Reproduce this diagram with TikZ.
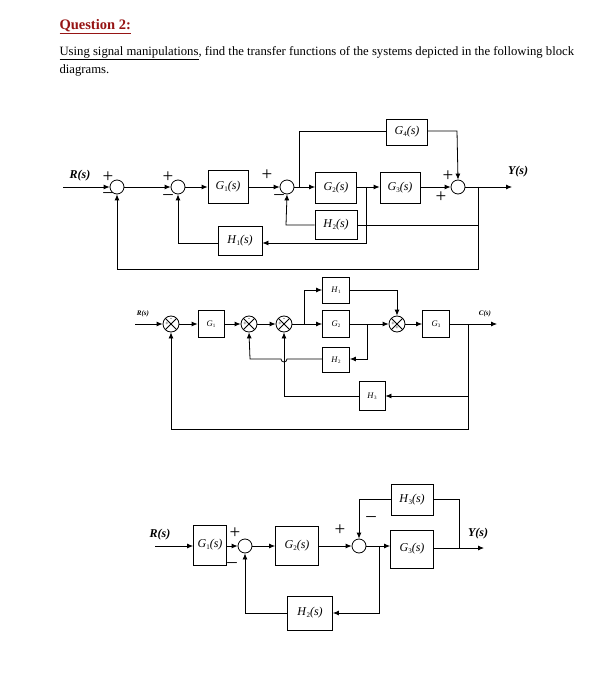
\documentclass[tikz,border=0pt]{standalone}
\usepackage{fontspec}
\setmainfont{Liberation Serif}
\usetikzlibrary{arrows.meta}
\definecolor{qred}{RGB}{150,20,20}
\newcommand{\tfx}[2]{\textit{#1}\raisebox{-0.3ex}{\scriptsize #2}\textit{(s)}}
\newcommand{\tfy}[2]{\textit{#1}\raisebox{-0.3ex}{\fontsize{5}{5}\selectfont #2}}
\begin{document}
\begin{tikzpicture}[x=1pt,y=-1pt,
  blk/.style={draw,thick,minimum width=0pt,inner sep=0pt,font=\fontsize{12}{12}\selectfont},
  sm/.style={draw,thick,circle,minimum size=14pt,inner sep=0pt},
  xs/.style={draw,thick,circle,minimum size=16pt,inner sep=0pt,path picture={\draw[thick] (path picture bounding box.north west)--(path picture bounding box.south east) (path picture bounding box.north east)--(path picture bounding box.south west);}},
  ar/.style={thick,-{Latex[length=6pt,width=5pt]}},
  ln/.style={thick},
  lb/.style={font=\fontsize{12}{12}\selectfont\bfseries\itshape},
  sg/.style={font=\fontsize{19}{19}\selectfont},
  tiny/.style={font=\fontsize{8.5}{8.5}\selectfont}]
\useasboundingbox (0,0) rectangle (612,700);
% text
\node[anchor=west,font=\fontsize{14.5}{15}\selectfont\bfseries,text=qred] (title) at (56,27) {\underline{Question 2:}};
\node[anchor=west,font=\fontsize{12.7}{14}\selectfont] (t1) at (56,53) {\underline{Using signal manipulations}, find the transfer functions of the systems depicted in the following block};
\node[anchor=west,font=\fontsize{12.7}{14}\selectfont] (t2) at (56,70) {diagrams.};

% ===== Diagram 1 =====
\coordinate (in1) at (63,187);
\node[lb] (R1) at (80,176) {R(s)};
\node[sm] (s1) at (117,187) {};
\node[sm] (s2) at (178,187) {};
\node[blk,minimum width=40pt,minimum height=33pt] (G1) at (228,187) {\tfx{G}{1}};
\node[sm] (s3) at (287,187) {};
\node[blk,minimum width=41pt,minimum height=26pt] (G4) at (407,132) {\tfx{G}{4}};
\node[blk,minimum width=41pt,minimum height=31pt] (G2) at (336,188) {\tfx{G}{2}};
\node[blk,minimum width=40pt,minimum height=31pt] (G3) at (400,188) {\tfx{G}{3}};
\node[blk,minimum width=42pt,minimum height=29pt] (H2) at (336,225) {\tfx{H}{2}};
\node[blk,minimum width=44pt,minimum height=29pt] (H1) at (240,241) {\tfx{H}{1}};
\node[sm] (s4) at (458,187) {};
\node[lb] (Y1) at (518,172) {Y(s)};
\coordinate (out1) at (512,187);
\coordinate (b1) at (299,187); \coordinate (b1t) at (299,131);
\coordinate (b2) at (366,187);
\coordinate (b3) at (478,187);
\draw[ar] (in1) -- (s1);
\draw[ar] (s1) -- (s2);
\draw[ar] (s2) -- (G1);
\draw[ar] (G1) -- (s3);
\draw[ar] (s3) -- (G2.west|-s3);
\draw[ln] (b1) -- (b1t) -- (G4.west|-b1t);
\draw[ar] (G2.east|-b2) -- (G3.west|-b2);
\draw[ar] (G3.east|-s4) -- (s4);
\draw[ar] (G4.east|-b1t) -- (457,131) -- (s4.north);
\draw[ar] (s4) -- (out1);
\draw[ar] (b2) -- (366,243) -- (H1.east|-0,243);
\draw[ar] (H1.west|-0,243) -- (178,243) -- (s2.south);
\draw[ln] (b3) -- (478,225) -- (H2.east|-0,225);
\draw[ar] (H2.west|-0,225) -- (286,225) -- (s3.south);
\draw[ar] (b3) -- (478,269) -- (117,269) -- (s1.south);
\node[sg] (p1) at (108,177) {+}; \node[sg] (m1) at (108,195) {--};
\node[sg] (p2) at (168,177) {+}; \node[sg] (m2) at (168,197) {--};
\node[sg] (p3) at (267,175) {+}; \node[sg] (m3) at (279,197) {--};
\node[sg] (p4) at (448,176) {+}; \node[sg] (p5) at (441,197) {+};

% ===== Diagram 2 =====
\node[font=\fontsize{7}{7}\selectfont\bfseries\itshape] (R2) at (143,314) {R(s)};
\coordinate (in2) at (135,324);
\node[xs] (x1) at (171,324) {};
\node[blk,minimum width=26pt,minimum height=27pt,tiny] (g1) at (211,324) {\tfy{G}{1}};
\node[xs] (x2) at (249,324) {};
\node[xs] (x3) at (284,324) {};
\node[blk,minimum width=27pt,minimum height=26pt,tiny] (h1) at (336,290) {\tfy{H}{1}};
\node[blk,minimum width=27pt,minimum height=27pt,tiny] (g2) at (336,324) {\tfy{G}{2}};
\node[blk,minimum width=27pt,minimum height=25pt,tiny] (h2) at (336,360) {\tfy{H}{2}};
\node[xs] (x4) at (397,324) {};
\node[blk,minimum width=27pt,minimum height=27pt,tiny] (g3) at (436,324) {\tfy{G}{3}};
\node[blk,minimum width=26pt,minimum height=29pt,tiny] (h3) at (372,396) {\tfy{H}{3}};
\node[font=\fontsize{7}{7}\selectfont\bfseries\itshape] (C2) at (485,314) {C(s)};
\coordinate (out2) at (497,324);
\draw[ar] (in2) -- (x1);
\draw[ar] (x1) -- (g1);
\draw[ar] (g1) -- (x2);
\draw[ar] (x2) -- (x3);
\draw[ar] (x3) -- (g2);
\draw[ar] (304,324) -- (304,290) -- (h1);
\draw[ar] (h1.east) -- (397,290) -- (x4.north);
\draw[ar] (g2) -- (x4);
\draw[ar] (x4) -- (g3);
\draw[ar] (g3) -- (out2);
\draw[ar] (367,324) -- (367,359) -- (h2.east|-0,359);
\draw[ar] (h2.west|-0,359) -- (287,359) arc (0:180:3) -- (250,359) -- (x2.south);
\draw[ar] (468,324) -- (468,396) -- (h3);
\draw[ar] (h3) -- (284,396) -- (x3.south);
\draw[ar] (468,396) -- (468,429) -- (171,429) -- (x1.south);
\foreach \n in {x1,x2,x3} {\node[font=\fontsize{6}{6}\selectfont] at ([xshift=-4pt]\n.center) {+}; \node[font=\fontsize{6}{6}\selectfont] at ([yshift=4pt]\n.center) {-};}
\node[font=\fontsize{6}{6}\selectfont] (p6) at ([yshift=-4pt]x4.center) {+};
\node[font=\fontsize{6}{6}\selectfont] (p7) at ([xshift=-4pt]x4.center) {+};

% ===== Diagram 3 =====
\node[lb] (R3) at (160,535) {R(s)};
\coordinate (in3) at (155,546);
\node[blk,minimum width=33pt,minimum height=40pt] (k1) at (210,545) {\tfx{G}{1}};
\node[sm] (t3) at (245,546) {};
\node[blk,minimum width=43pt,minimum height=39pt] (k2) at (297,546) {\tfx{G}{2}};
\node[sm] (u3) at (359,546) {};
\node[blk,minimum width=42pt,minimum height=31pt] (k4) at (412,500) {\tfx{H}{3}};
\node[blk,minimum width=43pt,minimum height=38pt] (k3) at (412,549) {\tfx{G}{3}};
\node[blk,minimum width=45pt,minimum height=34pt] (k5) at (310,613) {\tfx{H}{2}};
\node[lb] (Y3) at (478,534) {Y(s)};
\coordinate (out3) at (484,548);
\draw[ar] (in3) -- (k1.west|-in3);
\draw[ar] (k1.east|-in3) -- (t3);
\draw[ar] (t3) -- (k2);
\draw[ar] (k2) -- (u3);
\draw[ar] (u3) -- (k3.west|-u3);
\draw[ar] (k3.east|-out3) -- (out3);
\draw[ar] (379,546) -- (379,613) -- (k5);
\draw[ar] (k5) -- (245,613) -- (t3.south);
\draw[ln] (459,548) -- (459,499) -- (k4.east|-0,499);
\draw[ar] (k4.west|-0,499) -- (359,499) -- (u3.north);
\node[sg] (p8) at (235,533) {+}; \node[sg] (m8) at (232,565) {--};
\node[sg] (p9) at (340,530) {+}; \node[sg] (m9) at (371,519) {--};
\end{tikzpicture}
\end{document}
